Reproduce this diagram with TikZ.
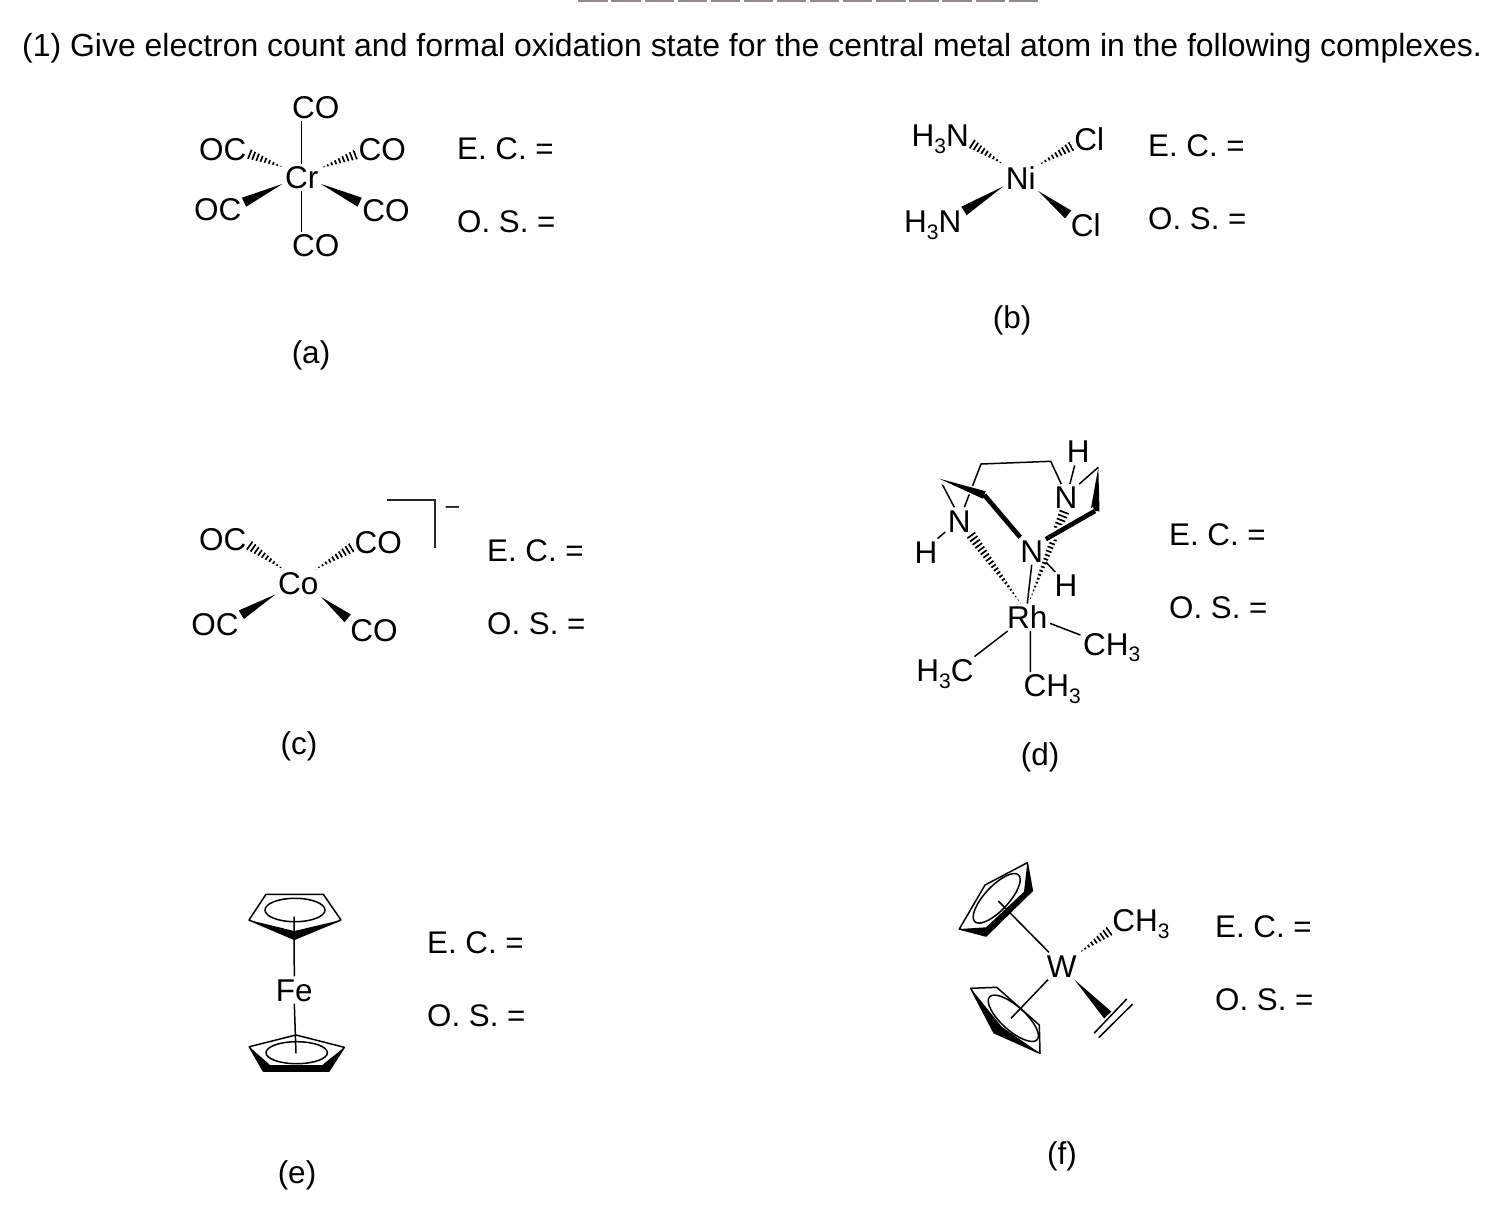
\documentclass[tikz,border=0pt]{standalone}
\usepackage{fontspec}
\setmainfont{Liberation Sans}
\usetikzlibrary{calc,positioning}
\definecolor{cutline}{HTML}{97888E}
\tikzset{
atom/.style={inner sep=2.5pt,text height=22pt,text depth=0pt,font=\fontsize{31.5}{33}\selectfont},
answer/.style={inner sep=0pt,text height=22pt,text depth=0pt,font=\fontsize{31.3}{33}\selectfont},
tag/.style={inner sep=0pt,font=\fontsize{31.5}{33}\selectfont},
bond/.style={line width=1.5pt},
bold/.style={line width=4.7pt},
halo/.style={white,line width=9pt},
}
\newcommand{\lowthree}{\raisebox{-.22em}{\fontsize{21}{21}\selectfont 3}}
\newcommand{\wedgebond}[3][5pt]{\fill let \p1=($(#3)-(#2)$),\n1={atan2(\y1,\x1)} in (#2)--($(#3)+(\n1+90:#1)$)--($(#3)+(\n1-90:#1)$)--cycle;}
\newcommand{\hashbond}[3][5pt]{\begin{scope}
\clip let \p1=($(#3)-(#2)$),\n1={atan2(\y1,\x1)} in (#2)--($(#3)+(\n1+90:#1)$)--($(#3)+(\n1-90:#1)$)--cycle;
\draw[line width=14pt,dash pattern=on 1.7pt off 2.5pt] (#3)--(#2);
\end{scope}}
\begin{document}
\begin{tikzpicture}[x=1pt,y=-1pt]
\useasboundingbox (0,0) rectangle (1487,1204);
\draw[line width=3pt,color=cutline,dash pattern=on 29.3pt off 3.8pt] (578.3,0.2)--(1038,0.2);
\node[anchor=base west,inner sep=0pt,font=\fontsize{31.95}{36}\selectfont] (title) at (22,57) {(1) Give electron count and formal oxidation state for the central metal atom in the following complexes.};

\node[atom](cra) at (301.7,177.7) {Cr};
\node[atom](coa1) at (315.7,107.7) {CO};
\node[atom](oca1) at (222.7,149.3) {OC};
\node[atom](coa2) at (382.3,149.3) {CO};
\node[atom](oca2) at (217.7,209.3) {OC};
\node[atom](coa3) at (386,210.7) {CO};
\node[atom](coa4) at (315.7,245.7) {CO};
\draw[bond] (coa1.224)--(coa1.224 |- cra.north);
\draw[bond] (coa4.136)--(coa4.136 |- cra.south);
\hashbond{cra.151}{oca1.-10}
\hashbond{cra.27}{coa2.191}
\wedgebond{cra.198}{oca2.15}
\wedgebond{cra.-18}{coa3.162}
\node[answer,anchor=west](eca) at (457,148) {E. C. =};
\node[answer,below right=51pt and 0pt of eca.south west](osa) {O. S. =};
\node[tag](laba) at (311,355) {(a)};

\node[atom](ni) at (1020.7,178.3) {Ni};
\node[atom](nhb1) at (940.3,135.3) {H\lowthree N};
\node[atom](clb1) at (1089.3,139) {Cl};
\node[atom](nhb2) at (932.7,221.7) {H\lowthree N};
\node[atom](clb2) at (1085.7,225) {Cl};
\hashbond{ni.141}{nhb1.-15}
\hashbond{ni.37}{clb1.202}
\wedgebond{ni.205}{nhb2.19}
\wedgebond{ni.-36}{clb2.149}
\node[answer,anchor=west](ecb) at (1148,145) {E. C. =};
\node[answer,below right=51pt and 0pt of ecb.south west](osb) {O. S. =};
\node[tag](labb) at (1012,320) {(b)};

\node[atom](coc) at (298.3,583.3) {Co};
\node[atom](occ1) at (222.7,539) {OC};
\node[atom](coc1) at (378.3,542.3) {CO};
\node[atom](occ2) at (215,624.3) {OC};
\node[atom](coc2) at (374,630) {CO};
\hashbond{coc.137}{occ1.-13}
\hashbond{coc.39}{coc1.191}
\wedgebond{coc.206}{occ2.20}
\wedgebond{coc.-31}{coc2.156}
\coordinate(brc1) at (386.7,500);
\coordinate(brc2) at (435,500);
\coordinate(brc3) at (435,548.3);
\draw[bond,color=black!85] (brc1)--(brc2)--(brc3);
\node[inner sep=0pt,font=\fontsize{24}{24}\selectfont](chg) at (452.5,510) {–};
\node[answer,anchor=west](ecc) at (487,550) {E. C. =};
\node[answer,below right=51pt and 0pt of ecc.south west](osc) {O. S. =};
\node[tag](labc) at (299,746) {(c)};

\node[atom](rh) at (1027.3,617.3) {Rh};
\node[atom](nd1) at (1066,497.7) {N};
\node[atom](nd2) at (959.3,521) {N};
\node[atom](nd3) at (1031.7,551) {N};
\node[atom](hd1) at (1078.3,451.7) {H};
\node[atom](hd2) at (926,552.3) {H};
\node[atom](hd3) at (1066,585.7) {H};
\node[atom](chd1) at (1111.7,644) {CH\lowthree};
\node[atom](chd2) at (945,670.3) {H\lowthree C};
\node[atom](chd3) at (1052.3,685.7) {CH\lowthree};
\coordinate(rd1) at (981,464);
\coordinate(rd2) at (1050.7,461.3);
\coordinate(rd3) at (939.3,478.7);
\coordinate(rd4) at (984.3,495);
\coordinate(rd5) at (1098.3,467.3);
\coordinate(rd6) at (1095,511);
\draw[bond] (nd2.70)--(rd1)--(rd2)--(nd1.109);
\draw[bond] (nd2.110)--(rd3);
\draw[bond] (nd1.46)--(rd5);
\draw[halo] (rd3)--(rd4);
\wedgebond[4pt]{rd3}{rd4}
\wedgebond[4.5pt]{rd5}{rd6}
\hashbond{rh.115}{nd2.-50}
\hashbond{rh.85}{nd1.263}
\draw[halo] (nd3.40)--(rd6);
\draw[bold] (rd4)--(nd3.130);
\draw[bold] (nd3.40)--(rd6);
\draw[bond] (nd3.south)--(rh.north);
\draw[bond] (hd1.255)--(nd1.74);
\draw[bond] (hd2.50)--(nd2.218);
\draw[bond] (hd3.128)--(nd3.-38);
\draw[bond] (rh.215)--(chd2.25);
\draw[bond] (rh.-15)--(chd1.164);
\draw[bond] (rh.-77)--(chd3.148);
\node[answer,anchor=west](ecd) at (1169,534) {E. C. =};
\node[answer,below right=51pt and 0pt of ecd.south west](osd) {O. S. =};
\node[tag](labd) at (1040,757) {(d)};

\node[atom](fe) at (294.3,990) {Fe};
\coordinate(cpe1) at (294,916.7);
\coordinate(cpe2) at (296,1053.3);
\draw[bond,line join=round] (266,894.3)--(323.3,894.3)--(341,920)--(294.3,939.3)--(249,920)--cycle;
\fill (249,920)--(294.3,931)--(341,920)--(294.3,939.3)--cycle;
\draw[bond] (295,910) ellipse [x radius=30,y radius=11.7];
\draw[bond] (cpe1)--(fe.north);
\draw[bond,line join=round] (296,1035)--(344.3,1047.3)--(329,1071)--(263.3,1071)--(249.3,1046.7)--cycle;
\fill (249.3,1046.7)--(270,1065)--(322.3,1065)--(344.3,1047.3)--(329,1071)--(263.3,1071)--cycle;
\draw[bond] (296.7,1052.7) ellipse [x radius=30.7,y radius=11];
\draw[bond] (fe.south)--(cpe2);
\node[answer,anchor=west](ece) at (427,942) {E. C. =};
\node[answer,below right=51pt and 0pt of ece.south west](ose) {O. S. =};
\node[tag](labe) at (297,1175) {(e)};

\node[atom](w) at (1061.7,966) {W};
\node[atom](chf) at (1141,920.7) {CH\lowthree};
\coordinate(cpf1) at (998.3,901);
\coordinate(cpf2) at (1011,1018.3);
\coordinate(enf) at (1107.7,1015);
\coordinate(dbf1) at (1094,1033.3);
\coordinate(dbf2) at (1126.7,999);
\coordinate(dbf3) at (1098.7,1037.7);
\coordinate(dbf4) at (1132.7,1004);
\draw[bond,line join=round] (1027.3,862.7)--(1032.3,890.7)--(986,936)--(959.3,929)--(985,885)--cycle;
\fill (1027.3,862.7)--(1032.3,890.7)--(986,936)--(959.3,929)--(986,927.3)--(1024,891.7)--cycle;
\draw[bond] (996.7,898.3) ellipse [x radius=32,y radius=12,rotate=47];
\draw[bond] (cpf1)--(w.133);
\draw[bond,line join=round] (970.7,988.3)--(996.7,987.3)--(1039.3,1025)--(1040,1053.3)--(994,1032.7)--cycle;
\fill (970.7,988.3)--(1001.7,1026.7)--(1040,1053.3)--(994,1032.7)--cycle;
\draw[bond] (1013.3,1018.3) ellipse [x radius=32,y radius=12,rotate=-42];
\draw[bond] (w.225)--(cpf2);
\hashbond{w.37}{chf.198}
\wedgebond{w.-47}{enf}
\draw[bond] (dbf1)--(dbf2);
\draw[bond] (dbf3)--(dbf4);
\node[answer,anchor=west](ecf) at (1215,926) {E. C. =};
\node[answer,below right=51pt and 0pt of ecf.south west](osf) {O. S. =};
\node[tag](labf) at (1062,1156) {(f)};
\end{tikzpicture}
\end{document}
